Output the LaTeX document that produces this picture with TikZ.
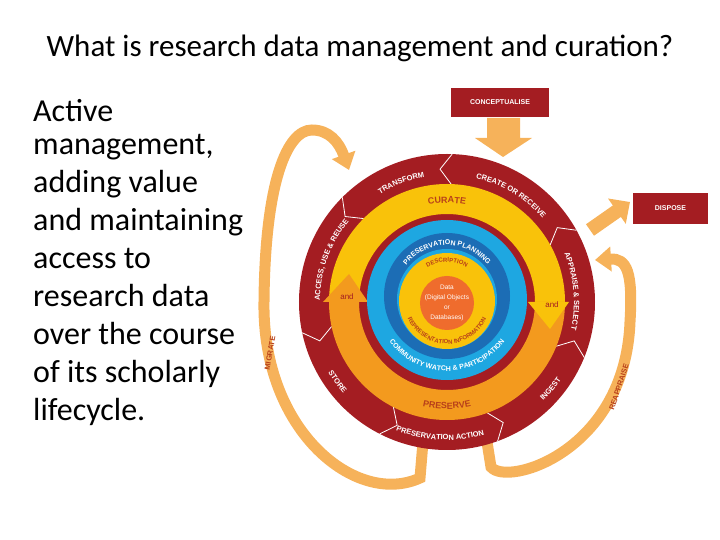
\documentclass[tikz,border=0pt]{standalone}
\usepackage{fontspec}
\setmainfont{Carlito}
\newfontfamily\lab{Liberation Sans}
\usetikzlibrary{decorations.text,arrows.meta}
\definecolor{dred}{HTML}{A41D22}
\definecolor{cyel}{HTML}{F9C20A}
\definecolor{corg}{HTML}{F39A1E}
\definecolor{lblue}{HTML}{1EA7E1}
\definecolor{dblue}{HTML}{1C6DB5}
\definecolor{ctr}{HTML}{EF6C2D}
\definecolor{larr}{HTML}{F6B25A}
\definecolor{tbrown}{HTML}{B8401A}
\tikzset{
 ringtxt/.style={decorate,decoration={text along path,text align=center,text={#1}}},
 box/.style={fill=dred,text=white,font=\lab\bfseries\fontsize{7}{8}\selectfont,inner sep=0pt},
 sep/.style={white,line width=0.8pt},
 loop/.style={larr,line width=11pt,-{Triangle[width=24pt,length=16pt]}}
}
\begin{document}
\begin{tikzpicture}[x=1pt,y=1pt]
\useasboundingbox (-447,-238) rectangle (273,302);
% title and text
\node[anchor=base,font=\fontsize{31}{36}\selectfont,inner sep=0] (title) at (-87,245) {What is research data management and curation?};
\node[anchor=base west,align=left,font=\fontsize{32}{38}\selectfont,inner sep=0] (body) at (-414,180) {Active};
\node[anchor=north west,align=left,font=\fontsize{32}{38}\selectfont,inner sep=0] (body2) at (-414,168) {management,\\adding value\\and maintaining\\access to\\research data\\over the course\\of its scholarly\\lifecycle.};
% loops
\draw[loop] (-24,-140) -- (-27,-176) .. controls (-90,-205) and (-185,-130) .. (-183,0) .. controls (-182,120) and (-160,172) .. (-135,172) .. controls (-118,172) and (-108,160) .. (-98,132);
\draw[loop] (40,-140) -- (44,-165) .. controls (60,-185) and (178,-150) .. (183,-20) .. controls (186,30) and (180,44) .. (148,42);
\node[rotate=80,text=tbrown,font=\lab\bfseries\fontsize{7.5}{8}\selectfont] (mig) at (-177,-51) {MIGRATE};
\node[rotate=72,text=tbrown,font=\lab\bfseries\fontsize{7.5}{8}\selectfont] (reap) at (172,-85) {REAPPRAISE};
% boxes and arrows
\node[box,minimum width=98pt,minimum height=29pt] (concept) at (53,199.5) {CONCEPTUALISE};
\node[box,minimum width=75pt,minimum height=31pt] (dispose) at (223.5,93.5) {DISPOSE};
\fill[larr] (40,184) -- (40,164) -- (28,164) -- (56,145) -- (85,164) -- (73,164) -- (73,184) -- cycle;
\draw[larr,line width=14pt,-{Triangle[width=30pt,length=16pt]}] (143,72) -- (183,100);
% red ring
\fill[dred] (0,0) circle (148);
\foreach \a in {88,29,-22,-70,-117,-168,135}
  \draw[sep] (\a:118) -- (\a+5:133) -- (\a:148);
\def\rt#1{|\lab\bfseries\fontsize{7.5}{9}\selectfont\color{white}|#1}
\path[ringtxt=\rt{TRANSFORM}] (135:127) arc (135:87:127);
\path[ringtxt=\rt{CREATE OR RECEIVE}] (100:127) arc (100:18:127);
\path[ringtxt=\rt{APPRAISE {\&} SELECT}] (45:127) arc (45:-35:127);
\path[ringtxt=\rt{INGEST}] (-60:138) arc (-60:-20:138);
\path[ringtxt=\rt{PRESERVATION ACTION}] (-130:138) arc (-130:-56:138);
\path[ringtxt=\rt{STORE}] (-165:138) arc (-165:-123:138);
\path[ringtxt=\rt{ACCESS, USE {\&} REUSE}] (-155:127) arc (-155:-245:127);
% yellow/orange ring
\fill[cyel] (180:118) arc (180:0:118) -- (0:88) arc (0:180:88) -- cycle;
\fill[corg] (0:118) arc (0:-180:118) -- (180:88) arc (-180:0:88) -- cycle;
\fill[corg] (-124,0) -- (-79,0) -- (-98,28) -- cycle;
\fill[cyel] (81,0) -- (122,0) -- (103,-27) -- cycle;
\node[text=dred,font=\lab\fontsize{8}{9}\selectfont] (and1) at (-100,5) {and};
\node[text=dred,font=\lab\fontsize{8}{9}\selectfont] (and2) at (105,-3) {and};
\def\ct#1{|\lab\bfseries\fontsize{9}{10}\selectfont\color{tbrown}|#1}
\path[ringtxt=\ct{CURATE}] (115:99) arc (115:65:99);
\path[ringtxt=\ct{PRESERVE}] (-120:107) arc (-120:-60:107);
% blue rings
\fill[lblue] (0,2) circle (80);
\fill[dblue] (0,6) circle (63);
\fill[lblue] (0,3) circle (50);
\fill[cyel] (0,1) circle (48);
\fill[ctr] (0,-1) circle (27);
\def\wt#1{|\lab\bfseries\fontsize{7}{8}\selectfont\color{white}|#1}
\path[ringtxt=\wt{PRESERVATION PLANNING}] ([shift={(0,6)}]160:51) arc (160:20:51);
\path[ringtxt=\wt{COMMUNITY WATCH {\&} PARTICIPATION}] ([shift={(0,2)}]-170:71) arc (-170:-10:71);
\def\yt#1{|\lab\bfseries\fontsize{6}{7}\selectfont\color{tbrown}|#1}
\path[ringtxt=\yt{DESCRIPTION}] ([shift={(0,1)}]135:39) arc (135:45:39);
\path[ringtxt=\yt{REPRESENTATION INFORMATION}] ([shift={(0,1)}]-200:43) arc (-200:20:43);
\node[text=white,align=center,font=\lab\fontsize{6.5}{10}\selectfont] (data) at (0,-1) {Data\\(Digital Objects\\or\\Databases)};
\end{tikzpicture}
\end{document}
